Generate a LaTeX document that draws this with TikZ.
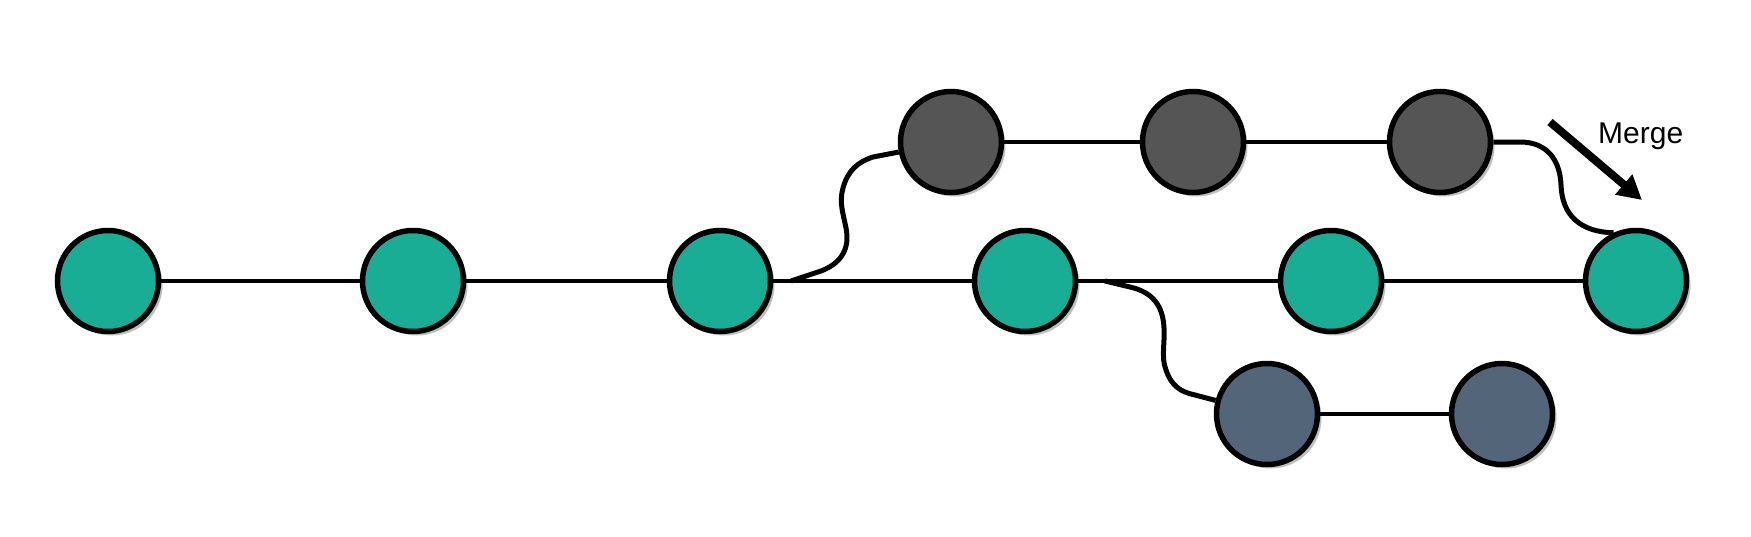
\documentclass[tikz,border=0pt]{standalone}
\usepackage{fontspec}
\setmainfont{Liberation Sans}
\usetikzlibrary{shadows,arrows.meta}

\definecolor{masterteal}{HTML}{1AAD96}
\definecolor{featuregrey}{HTML}{555555}
\definecolor{hotfixblue}{HTML}{536579}

\tikzset{
  commit/.style={circle,draw=black,line width=5.5pt,minimum size=101pt,inner sep=0pt,
    drop shadow={shadow xshift=4pt,shadow yshift=-4pt,opacity=.25,fill=black}},
  branchline/.style={draw,line width=4.5pt,line join=round},
}

\begin{document}
\begin{tikzpicture}[x=1pt,y=-1pt]
      \useasboundingbox (0,0) rectangle (1751,536);

      \begin{scope}[every node/.style={commit,fill=masterteal}]
        \node (m1) at (108,281)  {};
        \node (m2) at (413,281)  {};
        \node (m3) at (720,281)  {};
        \node (m4) at (1025,281) {};
        \node (m5) at (1331,281) {};
        \node (m6) at (1636,281) {};
      \end{scope}

      \begin{scope}[every node/.style={commit,fill=featuregrey}]
        \node (f1) at (951,142)  {};
        \node (f2) at (1193,142) {};
        \node (f3) at (1440,142) {};
      \end{scope}

      \begin{scope}[every node/.style={commit,fill=hotfixblue}]
        \node (h1) at (1267,414) {};
        \node (h2) at (1502,414) {};
      \end{scope}

      \coordinate (fork1) at (791,281);
      \coordinate (fork2) at (1105,281);
      \coordinate (mstart) at (1550,122);
      \coordinate (mend)   at (1642,200);

      \begin{scope}[every edge/.style={branchline}]
        \path (m1) edge (m2);
        \path (m2) edge (m3);
        \path (m3) edge (m4);
        \path (m4) edge (m5);
        \path (m5) edge (m6);
        \path (f1) edge (f2);
        \path (f2) edge (f3);
        \path (h1) edge (h2);
      \end{scope}

      % branch off, hotfix and merge back
      \path[branchline,line width=5pt] (fork1) -- (821,271) .. controls (842,263) and (850,248) .. (846,228)
        .. controls (843,213) and (839,202) .. (843,188)
        .. controls (848,170) and (858,162) .. (873,157) -- (f1);
      \path[branchline,line width=5pt] (fork2) -- (1130,287) .. controls (1152,292) and (1163,305) .. (1164,328)
        .. controls (1165,343) and (1161,357) .. (1166,370)
        .. controls (1171,385) and (1180,392) .. (1195,395) -- (h1);
      \path[branchline,line width=5pt] (f3.east) -- (1520,142) .. controls (1547,142) and (1560,160) .. (1561,185)
        .. controls (1562,215) and (1580,232) .. (m6.115);

      \draw[line width=8pt,-{Triangle[width=25pt,length=24pt]}] (mstart) -- (mend);
      \node[anchor=base west,inner sep=0pt,font=\fontsize{30}{36}\selectfont] (mergelabel) at (1598,143) {Merge};

\end{tikzpicture}
\end{document}
